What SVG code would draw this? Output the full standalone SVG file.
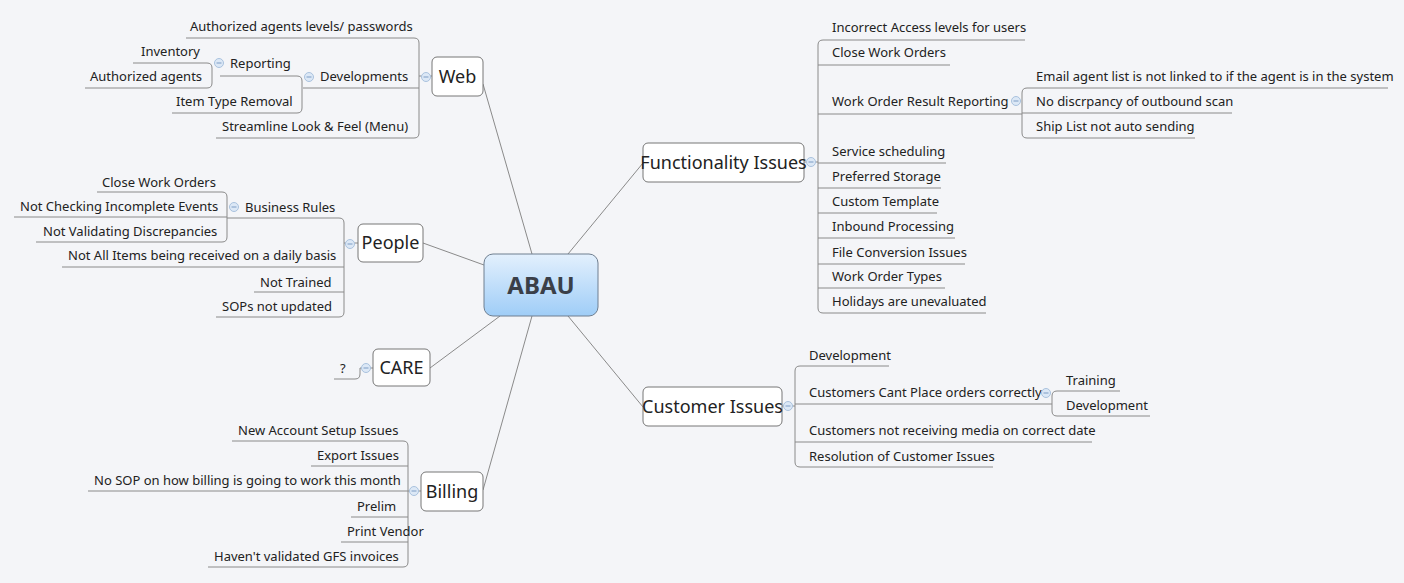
<svg xmlns="http://www.w3.org/2000/svg" width="1404" height="583" viewBox="0 0 1404 583">
<defs>
<linearGradient id="g" x1="0" y1="0" x2="0" y2="1"><stop offset="0" stop-color="#e3f0fd"/><stop offset="1" stop-color="#9fcdf7"/></linearGradient>
<style>
text{font-family:"Noto Sans","Open Sans",sans-serif;font-size:13px;fill:#222}
.n{font-size:18px}
.c{fill:none;stroke:#8a8a8a;stroke-width:1}
.b{fill:#fff;stroke:#777;stroke-width:1}
.i{fill:#dce8f6;stroke:#a9c2de}
.m{stroke:#7d9cc4;stroke-width:1}
</style>
<g id="ic"><circle r="4.5" class="i"/><line x1="-2.5" x2="2.5" class="m"/></g>
</defs>
<rect width="1404" height="583" fill="#f4f5f8"/>
<g id="connectors">
<path class="c" d="M532,254L483,84M484,265L423,243M500,316L430,368M532,316L483,490M568,254L643,163M568,316L643,407"/>
<!-- Web -->
<path class="c" d="M186,38H414Q419,38 419,43V133Q419,138 414,138H216M303,88H419M419,76H432"/>
<path class="c" d="M220,76H297Q302,76 302,81V108Q302,113 297,113H172"/>
<path class="c" d="M133,63H207Q212,63 212,68V83Q212,88 207,88H85"/>
<!-- People -->
<path class="c" d="M227,218H339Q344,218 344,223V312Q344,317 339,317H216M62,267H344M254,292H344M344,243H358"/>
<path class="c" d="M97,192H222Q227,192 227,197V237Q227,242 222,242H36M14,217H227"/>
<!-- CARE -->
<path class="c" d="M334,379H355Q360,379 360,374V368H373"/>
<!-- Billing -->
<path class="c" d="M232,441H403Q408,441 408,446V562Q408,567 403,567H208M311,466H408M88,491H421M351,517H408M341,542H408"/>
<!-- Functionality -->
<path class="c" d="M1025,40H823Q818,40 818,45V308Q818,313 823,313H986M950,65H818M1022,114H818M946,163H818M941,188H818M937,213H818M955,238H818M965,264H818M945,288H818M804,162H818"/>
<path class="c" d="M1388,88H1027Q1022,88 1022,93V133Q1022,138 1027,138H1195M1232,113H1022"/>
<!-- Customer -->
<path class="c" d="M889,366H800Q795,366 795,371V462Q795,467 800,467H993M1052,404H795M1092,442H795M782,406H795"/>
<path class="c" d="M1120,391H1057Q1052,391 1052,396V411Q1052,416 1057,416H1150"/>
</g>
<g id="ABAU"><rect x="484" y="254" width="114" height="62" rx="9" fill="url(#g)" stroke="#6f7f90"/><text x="541" y="294" class="n" text-anchor="middle" style="font-size:24px;font-weight:bold;fill:#3a3f48">ABAU</text></g>
<g id="Web"><rect x="432" y="57" width="51" height="39" rx="5" class="b"/><text x="457.500" y="83" class="n" text-anchor="middle">Web</text><use href="#ic" x="426" y="77"/>
<text x="190" y="31">Authorized agents levels/ passwords</text>
<text x="320" y="81">Developments</text><use href="#ic" x="309" y="77"/>
<text x="230" y="68">Reporting</text><use href="#ic" x="219" y="63"/>
<text x="141" y="56">Inventory</text>
<text x="90" y="81">Authorized agents</text>
<text x="176" y="106">Item Type Removal</text>
<text x="222" y="131">Streamline Look &amp; Feel (Menu)</text></g>
<g id="People"><rect x="358" y="224" width="65" height="38" rx="5" class="b"/><text x="390.500" y="249" class="n" text-anchor="middle">People</text><use href="#ic" x="350" y="244"/>
<text x="245" y="212">Business Rules</text><use href="#ic" x="234" y="207"/>
<text x="102" y="187">Close Work Orders</text>
<text x="20" y="211">Not Checking Incomplete Events</text>
<text x="43" y="236">Not Validating Discrepancies</text>
<text x="68" y="260">Not All Items being received on a daily basis</text>
<text x="260" y="287">Not Trained</text>
<text x="222" y="311">SOPs not updated</text></g>
<g id="CARE"><rect x="373" y="349" width="57" height="37" rx="5" class="b"/><text x="401.500" y="374" class="n" text-anchor="middle">CARE</text><use href="#ic" x="366" y="368"/>
<text x="340" y="373">?</text></g>
<g id="Billing"><rect x="421" y="472" width="62" height="39" rx="5" class="b"/><text x="452" y="498" class="n" text-anchor="middle">Billing</text><use href="#ic" x="414" y="491"/>
<text x="238" y="435">New Account Setup Issues</text>
<text x="317" y="460">Export Issues</text>
<text x="94" y="485">No SOP on how billing is going to work this month</text>
<text x="357" y="511">Prelim</text>
<text x="347" y="536">Print Vendor</text>
<text x="214" y="561">Haven't validated GFS invoices</text></g>
<g id="Functionality"><rect x="643" y="143" width="161" height="39" rx="5" class="b"/><text x="723.500" y="169" class="n" text-anchor="middle">Functionality Issues</text><use href="#ic" x="811" y="162"/>
<text x="832" y="32">Incorrect Access levels for users</text>
<text x="832" y="57">Close Work Orders</text>
<text x="832" y="106">Work Order Result Reporting</text><use href="#ic" x="1016" y="101"/>
<text x="1036" y="81">Email agent list is not linked to if the agent is in the system</text>
<text x="1036" y="106">No discrpancy of outbound scan</text>
<text x="1036" y="131">Ship List not auto sending</text>
<text x="832" y="156">Service scheduling</text>
<text x="832" y="181">Preferred Storage</text>
<text x="832" y="206">Custom Template</text>
<text x="832" y="231">Inbound Processing</text>
<text x="832" y="257">File Conversion Issues</text>
<text x="832" y="281">Work Order Types</text>
<text x="832" y="306">Holidays are unevaluated</text></g>
<g id="Customer"><rect x="643" y="387" width="139" height="39" rx="5" class="b"/><text x="712.500" y="413" class="n" text-anchor="middle">Customer Issues</text><use href="#ic" x="788" y="406"/>
<text x="809" y="360">Development</text>
<text x="809" y="397">Customers Cant Place orders correctly</text><use href="#ic" x="1046" y="393"/>
<text x="1066" y="385">Training</text>
<text x="1066" y="410">Development</text>
<text x="809" y="435">Customers not receiving media on correct date</text>
<text x="809" y="461">Resolution of Customer Issues</text></g>
</svg>
